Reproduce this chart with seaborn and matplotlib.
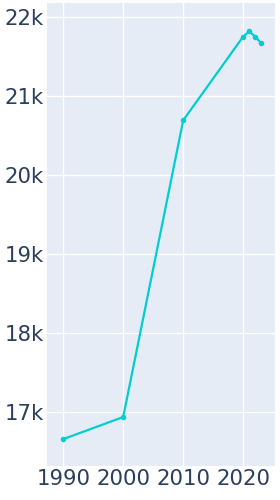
import matplotlib
matplotlib.use("Agg")
import matplotlib.pyplot as plt
import seaborn as sns
import pandas as pd
from matplotlib.ticker import FuncFormatter

years = [1990, 2000, 2010, 2020, 2021, 2022, 2023]
population = [16660, 16940, 20695, 21755, 21820, 21755, 21670]
xticks = [1990, 2000, 2010, 2020]
yticks = [17000, 18000, 19000, 20000, 21000, 22000]

df = pd.DataFrame({"year": years, "population": population})

sns.set_theme(style="darkgrid", rc={
    "axes.facecolor": "#E5ECF6",
    "grid.color": "white",
    "grid.linewidth": 1.0,
})
plt.rcParams['font.family'] = ['DejaVu Sans']

fig = plt.figure(figsize=(2.8, 5), dpi=100)
ax = fig.add_axes([47/280, 34/500, 228/280, 463/500])

sns.lineplot(data=df, x="year", y="population", ax=ax, color="#00CED1",
             linewidth=1.6, marker="o", markersize=4, markeredgewidth=0)

ax.set_xlim(1987.3, 2025.3)
ax.set_ylim(16320, 22180)
ax.set_xticks(xticks)
ax.set_yticks(yticks)
ax.yaxis.set_major_formatter(FuncFormatter(lambda v, p: f"{int(v/1000)}k"))
ax.tick_params(axis="both", labelsize=15.3, colors="#2A3F5F", length=0, pad=2)
ax.set_xlabel("")
ax.set_ylabel("")
for s in ax.spines.values():
    s.set_visible(False)

fig.savefig("out.png", dpi=100)
